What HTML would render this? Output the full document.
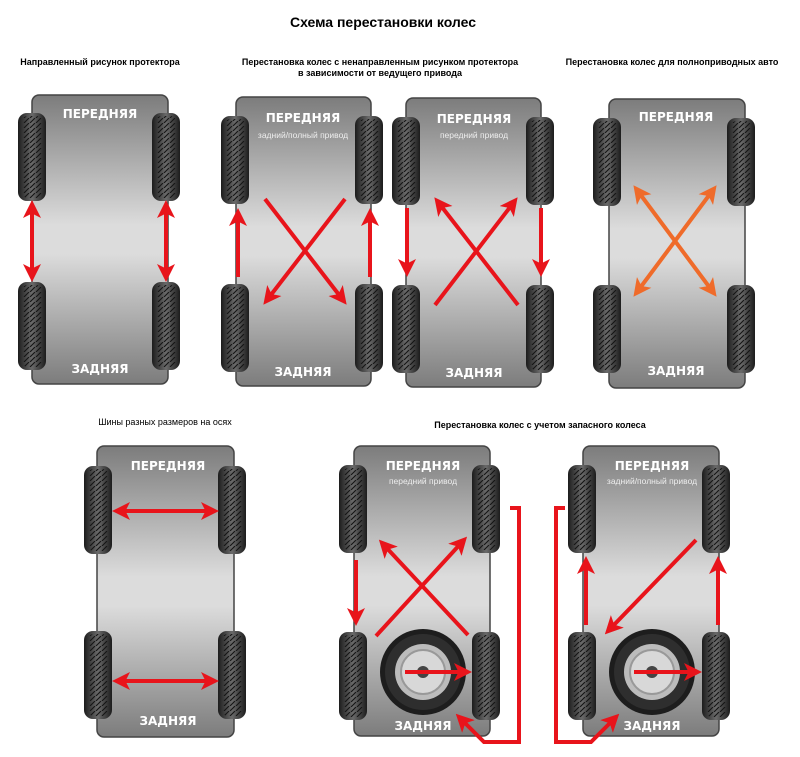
<!DOCTYPE html>
<html><head><meta charset="utf-8"><style>
html,body{margin:0;padding:0;background:#fff;width:800px;height:757px;overflow:hidden}
svg{display:block}
.t{font-family:"Liberation Sans",sans-serif;font-weight:bold;fill:#000}
.w{font-family:"DejaVu Sans","Liberation Sans",sans-serif;font-weight:bold;fill:#fff;font-size:12px;text-anchor:middle}
.s{font-family:"Liberation Sans",sans-serif;fill:#eee;font-size:8.5px;text-anchor:middle}
.r{stroke:#e8141b;stroke-width:4;fill:none}
.o{stroke:#ef6b2a;stroke-width:4;fill:none}
</style></head><body>
<svg width="800" height="757" viewBox="0 0 800 757" xmlns="http://www.w3.org/2000/svg">
<defs>
<linearGradient id="bg" x1="0" y1="0" x2="0" y2="1">
<stop offset="0" stop-color="#7c7c7c"/><stop offset="0.45" stop-color="#dcdcdc"/><stop offset="0.55" stop-color="#dcdcdc"/><stop offset="1" stop-color="#7c7c7c"/>
</linearGradient>
<linearGradient id="tg" x1="0" y1="0" x2="1" y2="0">
<stop offset="0" stop-color="#1c1c1c"/><stop offset="0.5" stop-color="#6a6a6a"/><stop offset="1" stop-color="#1c1c1c"/>
</linearGradient>
<pattern id="tp" width="28" height="5" patternUnits="userSpaceOnUse">
<path d="M6 5 L11 0 M12 5 L17 0 M18 5 L23 0" stroke="#151515" stroke-width="1.1"/>
</pattern>
<g id="tire">
<rect x="0" y="0" width="28" height="88" rx="9" fill="url(#tg)"/>
<rect x="3" y="3" width="22" height="82" rx="7" fill="url(#tp)"/>
</g>
<marker id="ar" viewBox="0 0 6 6" markerWidth="18" markerHeight="18" refX="4" refY="3" orient="auto" markerUnits="userSpaceOnUse"><path d="M0 0 L6 3 L0 6 L1.5 3 Z" fill="#e8141b"/></marker>
<marker id="as" viewBox="0 0 6 6" markerWidth="18" markerHeight="18" refX="2" refY="3" orient="auto-start-reverse" markerUnits="userSpaceOnUse"><path d="M0 0 L6 3 L0 6 L1.5 3 Z" fill="#e8141b"/></marker>
<marker id="ao" viewBox="0 0 6 6" markerWidth="18" markerHeight="18" refX="4" refY="3" orient="auto-start-reverse" markerUnits="userSpaceOnUse"><path d="M0 0 L6 3 L0 6 L1.5 3 Z" fill="#ef6b2a"/></marker>
<g id="spare">
<circle r="43" fill="#1d1d1d"/><circle r="38" fill="#2e2e2e"/><circle r="28" fill="#bcbcbc"/>
<circle r="22" fill="#d8d8d8" stroke="#999" stroke-width="2"/><circle r="6" fill="#444"/>
</g>
</defs>

<text class="t" x="383" y="27" font-size="14" text-anchor="middle">Схема перестановки колес</text>
<text class="t" x="100" y="65" font-size="9" text-anchor="middle">Направленный рисунок протектора</text>
<text class="t" x="380" y="65" font-size="9" text-anchor="middle">Перестановка колес с ненаправленным рисунком протектора</text>
<text class="t" x="380" y="76" font-size="9" text-anchor="middle">в зависимости от  ведущего привода</text>
<text class="t" x="672" y="65" font-size="9" text-anchor="middle">Перестановка колес для полноприводных авто</text>
<text x="165" y="425" font-size="9" text-anchor="middle" font-family="Liberation Sans,sans-serif">Шины разных размеров на осях</text>
<text class="t" x="540" y="428" font-size="9" text-anchor="middle">Перестановка колес с учетом запасного колеса</text>

<!-- Car 1 -->
<rect x="32" y="95" width="136" height="289" rx="7" fill="url(#bg)" stroke="#444" stroke-width="1.5"/>
<use href="#tire" x="18" y="113"/><use href="#tire" x="152" y="113"/>
<use href="#tire" x="18" y="282"/><use href="#tire" x="152" y="282"/>
<text class="w" x="100" y="118">ПЕРЕДНЯЯ</text><text class="w" x="100" y="373">ЗАДНЯЯ</text>
<line class="r" x1="32" y1="212" x2="32" y2="270" marker-start="url(#as)" marker-end="url(#as)"/>
<line class="r" x1="166" y1="212" x2="166" y2="270" marker-start="url(#as)" marker-end="url(#as)"/>

<!-- Car 2 -->
<rect x="236" y="97" width="135" height="289" rx="7" fill="url(#bg)" stroke="#444" stroke-width="1.5"/>
<use href="#tire" x="221" y="116"/><use href="#tire" x="355" y="116"/>
<use href="#tire" x="221" y="284"/><use href="#tire" x="355" y="284"/>
<text class="w" x="303" y="122">ПЕРЕДНЯЯ</text><text class="s" x="303" y="138">задний/полный привод</text>
<text class="w" x="303" y="376">ЗАДНЯЯ</text>
<line class="r" x1="238" y1="277" x2="238" y2="214" marker-end="url(#ar)"/>
<line class="r" x1="370" y1="277" x2="370" y2="214" marker-end="url(#ar)"/>
<line class="r" x1="265" y1="199" x2="343" y2="300" marker-end="url(#ar)"/>
<line class="r" x1="345" y1="199" x2="267" y2="300" marker-end="url(#ar)"/>

<!-- Car 3 -->
<rect x="406" y="98" width="135" height="289" rx="7" fill="url(#bg)" stroke="#444" stroke-width="1.5"/>
<use href="#tire" x="392" y="117"/><use href="#tire" x="526" y="117"/>
<use href="#tire" x="392" y="285"/><use href="#tire" x="526" y="285"/>
<text class="w" x="474" y="123">ПЕРЕДНЯЯ</text><text class="s" x="474" y="138">передний привод</text>
<text class="w" x="474" y="377">ЗАДНЯЯ</text>
<line class="r" x1="407" y1="208" x2="407" y2="271" marker-end="url(#ar)"/>
<line class="r" x1="541" y1="208" x2="541" y2="271" marker-end="url(#ar)"/>
<line class="r" x1="518" y1="305" x2="438" y2="202" marker-end="url(#ar)"/>
<line class="r" x1="435" y1="305" x2="514" y2="202" marker-end="url(#ar)"/>

<!-- Car 4 -->
<rect x="609" y="99" width="136" height="289" rx="7" fill="url(#bg)" stroke="#444" stroke-width="1.5"/>
<use href="#tire" x="593" y="118"/><use href="#tire" x="727" y="118"/>
<use href="#tire" x="593" y="285"/><use href="#tire" x="727" y="285"/>
<text class="w" x="676" y="121">ПЕРЕДНЯЯ</text><text class="w" x="676" y="375">ЗАДНЯЯ</text>
<line class="o" x1="637" y1="190" x2="713" y2="292" marker-start="url(#ao)" marker-end="url(#ao)"/>
<line class="o" x1="713" y1="190" x2="637" y2="292" marker-start="url(#ao)" marker-end="url(#ao)"/>

<!-- Car 5 -->
<rect x="97" y="446" width="137" height="291" rx="7" fill="url(#bg)" stroke="#444" stroke-width="1.5"/>
<use href="#tire" x="84" y="466"/><use href="#tire" x="218" y="466"/>
<use href="#tire" x="84" y="631"/><use href="#tire" x="218" y="631"/>
<text class="w" x="168" y="470">ПЕРЕДНЯЯ</text><text class="w" x="168" y="725">ЗАДНЯЯ</text>
<line class="r" x1="124" y1="511" x2="207" y2="511" marker-start="url(#as)" marker-end="url(#as)"/>
<line class="r" x1="124" y1="681" x2="207" y2="681" marker-start="url(#as)" marker-end="url(#as)"/>

<!-- Car 6 -->
<rect x="354" y="446" width="136" height="290" rx="7" fill="url(#bg)" stroke="#444" stroke-width="1.5"/>
<use href="#tire" x="339" y="465"/><use href="#tire" x="472" y="465"/>
<use href="#tire" x="339" y="632"/><use href="#tire" x="472" y="632"/>
<text class="w" x="423" y="470">ПЕРЕДНЯЯ</text><text class="s" x="423" y="484">передний привод</text>
<text class="w" x="423" y="730">ЗАДНЯЯ</text>
<use href="#spare" x="423" y="672"/>
<line class="r" x1="356" y1="560" x2="356" y2="620" marker-end="url(#ar)"/>
<line class="r" x1="376" y1="636" x2="463" y2="541" marker-end="url(#ar)"/>
<line class="r" x1="468" y1="635" x2="383" y2="544" marker-end="url(#ar)"/>
<line class="r" x1="405" y1="672" x2="466" y2="672" marker-end="url(#ar)"/>
<polyline class="r" points="510,508 519,508 519,742 484,742 460,718" stroke-width="3" marker-end="url(#ar)"/>

<!-- Car 7 -->
<rect x="583" y="446" width="136" height="290" rx="7" fill="url(#bg)" stroke="#444" stroke-width="1.5"/>
<use href="#tire" x="568" y="465"/><use href="#tire" x="702" y="465"/>
<use href="#tire" x="568" y="632"/><use href="#tire" x="702" y="632"/>
<text class="w" x="652" y="470">ПЕРЕДНЯЯ</text><text class="s" x="652" y="484">задний/полный привод</text>
<text class="w" x="652" y="730">ЗАДНЯЯ</text>
<use href="#spare" x="652" y="672"/>
<line class="r" x1="586" y1="625" x2="586" y2="562" marker-end="url(#ar)"/>
<line class="r" x1="718" y1="625" x2="718" y2="562" marker-end="url(#ar)"/>
<line class="r" x1="696" y1="540" x2="609" y2="630" marker-end="url(#ar)"/>
<line class="r" x1="634" y1="672" x2="696" y2="672" marker-end="url(#ar)"/>
<polyline class="r" points="565,508 556,508 556,742 591,742 615,718" stroke-width="3" marker-end="url(#ar)"/>
</svg>
</body></html>
